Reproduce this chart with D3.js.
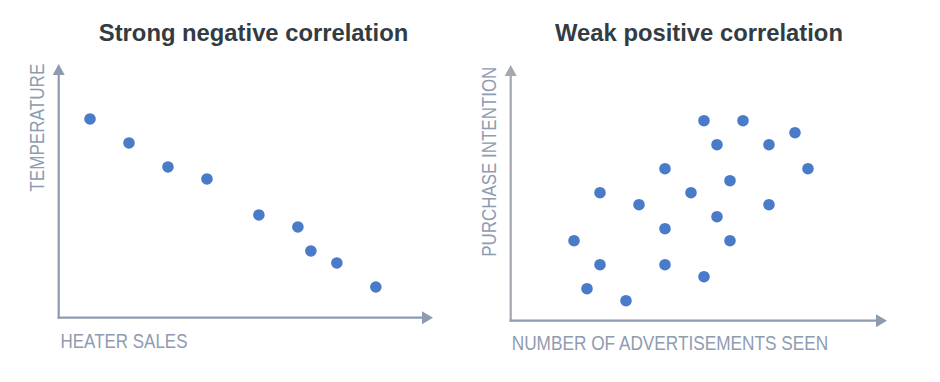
<!DOCTYPE html>
<html><head><meta charset="utf-8">
<script src="https://cdn.jsdelivr.net/npm/d3@7"></script>
<style>html,body{margin:0;padding:0;background:#fff;}</style>
</head><body>
<svg id="c" width="940" height="382"></svg>
<script>
// Data (abstract grid units)
const titles = ["Strong negative correlation", "Weak positive correlation"];
const xLabels = ["HEATER SALES", "NUMBER OF ADVERTISEMENTS SEEN"];
const yLabels = ["TEMPERATURE", "PURCHASE INTENTION"];
const negX = [0, 3, 6, 9, 13, 16, 17, 19, 22];
const negY = [14, 12, 10, 9, 6, 5, 3, 2, 0];
const posX = [10, 13, 17, 11, 15, 7, 18, 12, 2, 9, 5, 15, 11, 7, 0, 12, 2, 7, 10, 1, 4];
const posY = [15, 15, 14, 13, 13, 11, 11, 10, 9, 9, 8, 8, 7, 6, 5, 5, 3, 3, 2, 1, 0];

const svg = d3.select("#c");
const dotColor = "#4a7bc8";
const axisColor = "#8e9aae";

const panels = [
  { title: titles[0], tx: 253.5, xl: xLabels[0], yl: yLabels[0], xs: negX, ys: negY,
    xDom: [-2.41, 26.4], xRange: [58.7, 433], yDom: [-2.56, 18.58], yRange: [317.7, 64],
    xLab: { x: 60.5, y: 347.5, len: 127 }, yLab: { x: 44.3, y: 191.7, len: 128 },
    yAxisColor: axisColor },
  { title: titles[1], tx: 699, xl: xLabels[1], yl: yLabels[1], xs: posX, ys: posY,
    xDom: [-4.87, 24.08], xRange: [510.7, 887], yDom: [-1.667, 19.64], yRange: [320.7, 65],
    xLab: { x: 511.7, y: 350, len: 316.6 }, yLab: { x: 496, y: 256.7, len: 190 },
    yAxisColor: "#a4a7ad" }
];

panels.forEach(p => {
  const x = d3.scaleLinear().domain(p.xDom).range(p.xRange);
  const y = d3.scaleLinear().domain(p.yDom).range(p.yRange);
  const g = svg.append("g");
  const x0 = x(p.xDom[0]), x1 = x(p.xDom[1]);
  const y0 = y(p.yDom[0]), y1 = y(p.yDom[1]);
  const ah = 11, aw = 6;

  // title
  g.append("text").attr("x", p.tx).attr("y", 41)
    .attr("text-anchor", "middle")
    .attr("font-family", "Liberation Sans, Arial, sans-serif")
    .attr("font-weight", "bold").attr("font-size", 23.8)
    .attr("fill", "#323c42").text(p.title);

  // y axis
  g.append("line").attr("x1", x0).attr("x2", x0).attr("y1", y0 + 1).attr("y2", y1 + ah - 1)
    .attr("stroke", p.yAxisColor).attr("stroke-width", 2.2);
  g.append("path").attr("d", `M${x0},${y1} L${x0 - aw},${y1 + ah} L${x0 + aw},${y1 + ah} Z`)
    .attr("fill", p.yAxisColor);

  // x axis
  g.append("line").attr("x1", x0 - 1).attr("x2", x1 - ah + 1).attr("y1", y0).attr("y2", y0)
    .attr("stroke", axisColor).attr("stroke-width", 2.2);
  g.append("path").attr("d", `M${x1},${y0} L${x1 - ah},${y0 - aw - 0.5} L${x1 - ah},${y0 + aw + 0.5} Z`)
    .attr("fill", axisColor);

  // labels
  g.append("text").attr("x", p.xLab.x).attr("y", p.xLab.y)
    .attr("font-family", "Liberation Sans, Arial, sans-serif").attr("font-size", 21)
    .attr("fill", "#8f9bb1")
    .attr("textLength", p.xLab.len).attr("lengthAdjust", "spacingAndGlyphs")
    .text(p.xl);
  g.append("text").attr("transform", `translate(${p.yLab.x},${p.yLab.y}) rotate(-90)`)
    .attr("font-family", "Liberation Sans, Arial, sans-serif").attr("font-size", 21)
    .attr("fill", "#8f9bb1")
    .attr("textLength", p.yLab.len).attr("lengthAdjust", "spacingAndGlyphs")
    .text(p.yl);

  // dots
  g.selectAll("circle").data(p.xs.map((v, i) => [v, p.ys[i]])).join("circle")
    .attr("cx", d => x(d[0])).attr("cy", d => y(d[1])).attr("r", 5.8)
    .attr("fill", dotColor);
});
</script>
</body></html>
